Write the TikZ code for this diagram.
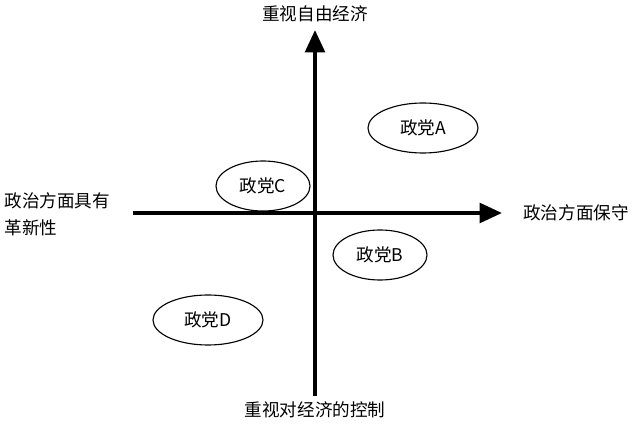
\documentclass[tikz,border=0pt]{standalone}
\usepackage{fontspec}
\setmainfont{Noto Sans CJK SC}
\usetikzlibrary{shapes.geometric,arrows.meta}
\begin{document}
\begin{tikzpicture}[x=0.025cm,y=-0.025cm]
    \tikzstyle{party}=[draw,ellipse,fill=white,line width=0.8pt,minimum width=2.6cm,minimum height=1.25cm,inner sep=1pt,font=\fontsize{12.5pt}{15pt}\selectfont]
    \tikzstyle{axis}=[line width=2.8pt,-{Triangle[length=16pt,width=14pt]}]
    \tikzstyle{lbl}=[font=\fontsize{12.5pt}{19pt}\selectfont,align=left,inner sep=1pt]
    \useasboundingbox (0,0) rectangle (640,426);

    %% axes
    \coordinate (bot) at (315,396);
    \coordinate (top) at (315,30);
    \coordinate (lft) at (133,213);
    \coordinate (rgt) at (502,213);
    \draw[axis] (bot) -- (top);
    \draw[axis] (lft) -- (rgt);

    %% axis labels
    \node[lbl] (free) at (315,14) {重视自由经济};
    \node[lbl] (ctrl) at (315,410) {重视对经济的控制};
    \node[lbl] (cons) at (576,213) {政治方面保守};
    \node[lbl,anchor=west] (refo) at (3,214) {政治方面具有\\革新性};

    %% parties
    \node[party,minimum width=2.75cm] (pa) at (423,128) {政党A};
    \node[party,minimum width=2.35cm] (pc) at (263,186) {政党C};
    \node[party,minimum width=2.35cm] (pb) at (380,255) {政党B};
    \node[party,minimum width=2.75cm] (pd) at (208,320) {政党D};
\end{tikzpicture}
\end{document}
